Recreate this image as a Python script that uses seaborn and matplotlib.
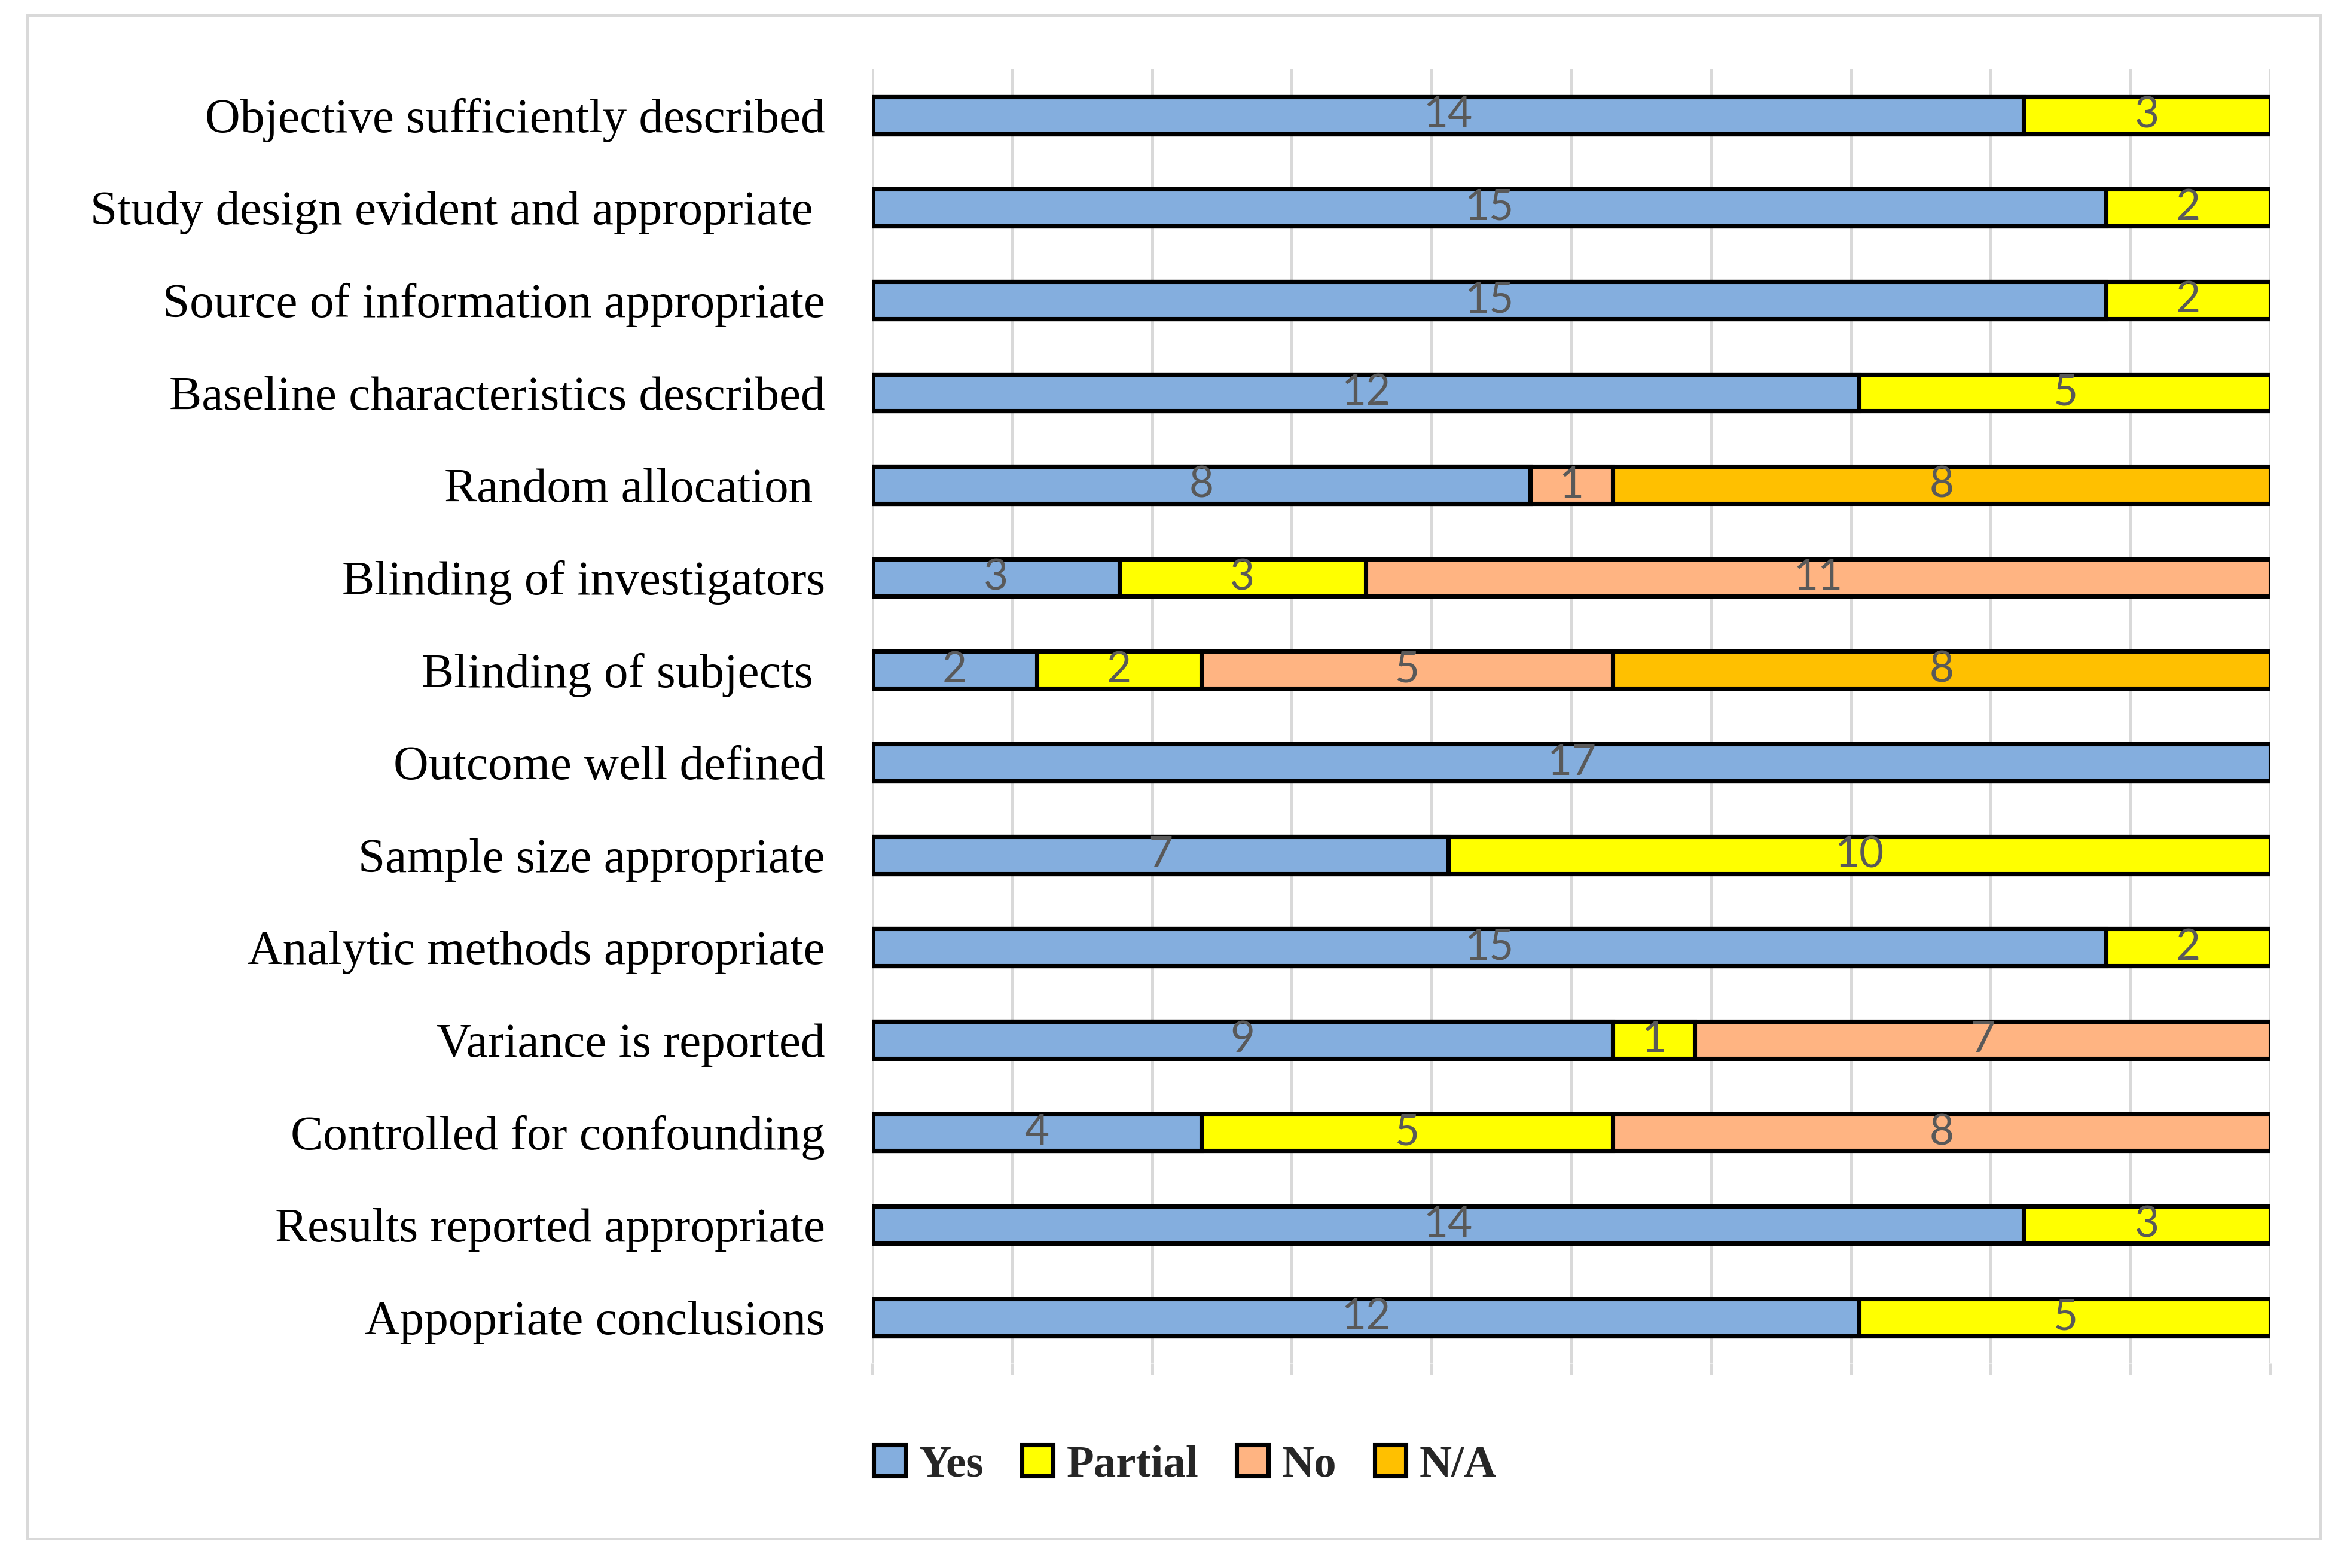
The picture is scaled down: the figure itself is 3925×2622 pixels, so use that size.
import numpy as np
import pandas as pd
import matplotlib
matplotlib.use("Agg")
import matplotlib.pyplot as plt
import seaborn as sns
from matplotlib.patches import Patch, Rectangle

criteria = [
    "Objective sufficiently described",
    "Study design evident and appropriate ",
    "Source of information appropriate",
    "Baseline characteristics described",
    "Random allocation ",
    "Blinding of investigators",
    "Blinding of subjects ",
    "Outcome well defined",
    "Sample size appropriate",
    "Analytic methods appropriate",
    "Variance is reported",
    "Controlled for confounding",
    "Results reported appropriate",
    "Appopriate conclusions",
]
yes = [14, 15, 15, 12, 8, 3, 2, 17, 7, 15, 9, 4, 14, 12]
partial = [3, 2, 2, 5, 0, 3, 2, 0, 10, 2, 1, 5, 3, 5]
no = [0, 0, 0, 0, 1, 11, 5, 0, 0, 0, 7, 8, 0, 0]
na = [0, 0, 0, 0, 8, 0, 8, 0, 0, 0, 0, 0, 0, 0]

series = ["Yes", "Partial", "No", "N/A"]
colors = {"Yes": "#84AEDE", "Partial": "#FFFF00", "No": "#FFB482", "N/A": "#FFC000"}

df = pd.DataFrame({"criterion": criteria, "Yes": yes, "Partial": partial, "No": no, "N/A": na})
cum = df[series].cumsum(axis=1)

sns.set_style("white")
fig, ax = plt.subplots(figsize=(3925 / 300, 2622 / 300), dpi=300)
fig.subplots_adjust(left=0.3717, right=0.9674, top=0.956, bottom=0.1304)

# stacked bars: draw cumulative totals from the widest down
for s in reversed(series):
    sns.barplot(x=cum[s], y=df["criterion"], orient="h", color=colors[s],
                width=0.4, edgecolor="black", linewidth=1.7, saturation=1, ax=ax)

for i, row in df.iterrows():
    left = 0
    for s in series:
        v = row[s]
        if v > 0:
            ax.text(left + v / 2, i, str(v), ha="center", va="center",
                    fontsize=17, color="#595959", family=["Lato", "DejaVu Sans"])
        left += v

ax.set_xlim(0, 17)
ax.set_ylim(13.5, -0.5)
ax.set_xticks(np.linspace(0, 17, 11))
ax.set_xticklabels([])
ax.grid(axis="x", color="#D9D9D9", linewidth=1.2)
ax.set_axisbelow(True)
for sp in ax.spines.values():
    sp.set_visible(False)
ax.tick_params(axis="x", length=4.5, width=1.2, color="#D9D9D9", bottom=True)
ax.tick_params(axis="y", length=0, pad=19)
ax.set_xlabel("")
ax.set_ylabel("")
for lbl in ax.get_yticklabels():
    lbl.set_family("Liberation Serif")
    lbl.set_fontsize(19.5)
    lbl.set_color("black")

handles = [Patch(facecolor=colors[s], edgecolor="black", linewidth=1.7, label=s) for s in series]
fig.legend(handles=handles, loc="center", bbox_to_anchor=(0.505, 0.0656), ncol=4, frameon=False,
           prop={"family": "Liberation Serif", "weight": "bold", "size": 18},
           handlelength=0.7, handleheight=0.7, handletextpad=0.3, columnspacing=0.85)

fig.patches.append(Rectangle((0.0115, 0.0187), 0.977, 0.9718, transform=fig.transFigure,
                             fill=False, edgecolor="#D9D9D9", linewidth=1.2))

fig.savefig("out.png", dpi=300, facecolor="white")
